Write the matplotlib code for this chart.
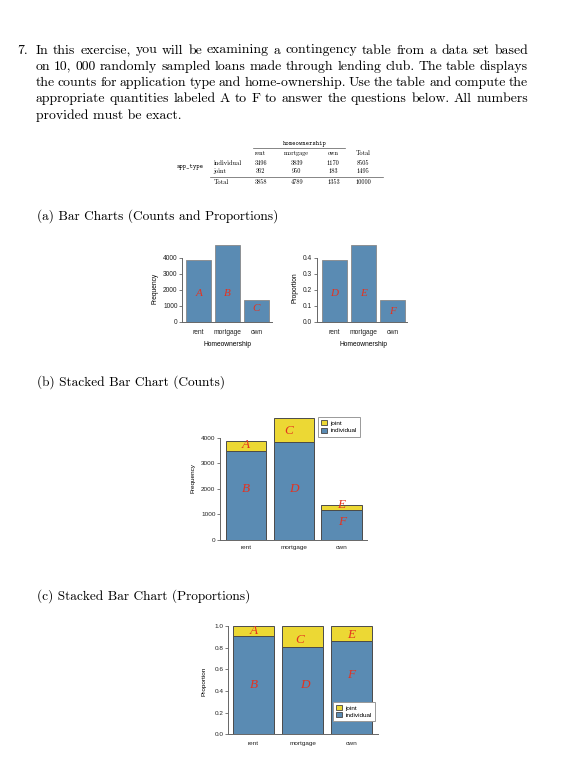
import matplotlib
matplotlib.use('Agg')
import matplotlib.pyplot as plt
from matplotlib.patches import Rectangle
from matplotlib.lines import Line2D
import numpy as np

# ---------------- data ----------------
homeownership = ['rent', 'mortgage', 'own']
app_types = ['individual', 'joint']
individual = [3496, 3839, 1170]
joint = [362, 950, 183]
letters_a_counts = ['A', 'B', 'C']
letters_a_props = ['D', 'E', 'F']
letters_b_joint = ['A', 'C', 'E']
letters_b_indiv = ['B', 'D', 'F']
count_ticks = [0, 1000, 2000, 3000, 4000]
prop_ticks_a = [0.0, 0.1, 0.2, 0.3, 0.4]
prop_ticks_c = [0.0, 0.2, 0.4, 0.6, 0.8, 1.0]

paragraph = [
    "In this exercise, you will be examining a contingency table from a data set based",
    "on 10, 000 randomly sampled loans made through lending club.  The table displays",
    "the counts for application type and home-ownership.  Use the table and compute the",
    "appropriate quantities labeled A to F to answer the questions below.  All numbers",
    "provided must be exact.",
]
headings = ["(a) Bar Charts (Counts and Proportions)",
            "(b) Stacked Bar Chart (Counts)",
            "(c) Stacked Bar Chart (Proportions)"]

ind = np.array(individual, dtype=float)
jnt = np.array(joint, dtype=float)
tot = ind + jnt
grand = tot.sum()

BLUE = '#5A8BB3'
YELLOW = '#ECD834'
RED = '#E5321F'
AXC = '#666666'
SANS = 'Liberation Sans'
SERIF_TEX = 'cmr10'
MONO_TEX = 'cmtt10'

W, H = 575, 767
fig = plt.figure(figsize=(W / 100, H / 100), dpi=100)
fig.patch.set_facecolor('white')
renderer = fig.canvas.get_renderer()


def fx(x):
    return x / W


def fy(y):
    return 1 - y / H


def twidth(s, **kw):
    t = fig.text(0, 0, s, **kw)
    w = t.get_window_extent(renderer).width
    t.remove()
    return w


def fit_size(s, target, **kw):
    w = twidth(s, fontsize=10, **kw)
    return 10 * target / w


def ptext(x, y, s, **kw):
    return fig.text(fx(x), fy(y), s, **kw)


# ---------------- paragraph ----------------
psize = fit_size(paragraph[4], 138.4, family=SERIF_TEX) * 1.05
x_left, x_right = 35.5, 528.0
base0, lstep = 53.5, 16.3
ptext(17, base0, "7.", family=SERIF_TEX, fontsize=psize, va='baseline')
for i, line in enumerate(paragraph):
    yb = base0 + i * lstep
    words = line.split()
    if i < len(paragraph) - 1:
        widths = [twidth(w, family=SERIF_TEX, fontsize=psize) for w in words]
        gap = (x_right - x_left - sum(widths)) / (len(words) - 1)
        x = x_left
        for w, wd in zip(words, widths):
            ptext(x, yb, w, family=SERIF_TEX, fontsize=psize, va='baseline')
            x += wd + gap
    else:
        ptext(x_left, yb, line, family=SERIF_TEX, fontsize=psize, va='baseline')

# ---------------- table ----------------
col_x = [260.7, 296.7, 333.3, 363.3]
row_y = [153.3, 163.3, 171.3, 181.7]
tsize = fit_size('3496', 12.6, family=SERIF_TEX)
rsize = fit_size('Total', 15.0, family=SERIF_TEX)
msize = fit_size('homeownership', 44.0, family=MONO_TEX)
ptext(304.7, 144.0, 'homeownership', family=MONO_TEX, fontsize=msize, ha='center', va='center')
ptext(176.7, 167.0, 'app_type', family=MONO_TEX, fontsize=msize, ha='left', va='center')
for cx, lab in zip(col_x, homeownership + ['Total']):
    ptext(cx, row_y[0], lab, family=SERIF_TEX, fontsize=tsize, ha='center', va='center')
table_rows = [list(ind) + [ind.sum()], list(jnt) + [jnt.sum()], list(tot) + [grand]]
for ry, lab, vals in zip(row_y[1:], app_types + ['Total'], table_rows):
    ptext(213.5, ry, lab, family=SERIF_TEX, fontsize=rsize, ha='left', va='center')
    for cx, v in zip(col_x, vals):
        ptext(cx, ry, f"{int(v)}", family=SERIF_TEX, fontsize=tsize, ha='center', va='center')
fig.add_artist(Line2D([fx(253.3), fx(345)], [fy(148.3), fy(148.3)], color='#555555', lw=0.5))
fig.add_artist(Line2D([fx(210), fx(383.3)], [fy(176.7), fy(176.7)], color='#555555', lw=0.5))

# ---------------- headings ----------------
hsize = fit_size(headings[0], 241.6, family=SERIF_TEX)
for hy, h in zip([220.0, 386.0, 600.0], headings):
    ptext(37, hy, h, family=SERIF_TEX, fontsize=hsize, va='baseline')


# ---------------- helpers for axes ----------------
def make_ax(left, right, top, bottom, xlim, ylim):
    ax = fig.add_axes([fx(left), fy(bottom), (right - left) / W, (bottom - top) / H])
    ax.set_xlim(*xlim)
    ax.set_ylim(*ylim)
    ax.patch.set_alpha(0)
    for s in ['top', 'right']:
        ax.spines[s].set_visible(False)
    for s in ['left', 'bottom']:
        ax.spines[s].set_color(AXC)
        ax.spines[s].set_linewidth(0.7)
    return ax


def style_ticks(ax, yticks, labels, fs, xfs):
    ax.set_yticks(yticks)
    ax.set_yticklabels(labels, fontsize=fs, family=SANS)
    ax.spines['left'].set_bounds(yticks[0], yticks[-1])
    ax.tick_params(axis='y', length=2, width=0.6, color=AXC, pad=1.2, labelcolor='#222222')
    ax.set_xticks(range(len(homeownership)))
    ax.set_xticklabels(homeownership, fontsize=xfs, family=SANS)
    ax.tick_params(axis='x', length=0, pad=5, labelcolor='#222222')


# ---------------- (a) left: counts ----------------
pxu = 64 / 4000
ax1 = make_ax(182, 272, 238, 321.7, (-0.569, 2.534), (0, (321.7 - 238) / pxu))
ax1.bar(range(3), tot, width=0.86, color=BLUE, edgecolor='#888888', linewidth=0.6)
style_ticks(ax1, count_ticks, [str(t) for t in count_ticks], 4.8, 4.8)
for i, (L, yv) in enumerate(zip(letters_a_counts, [1750, 1750, 850])):
    ax1.text(i, yv, L, color=RED, fontsize=8, family='Liberation Serif', style='italic',
             ha='center', va='center')
ptext(155, 288, 'Frequency', family=SANS, fontsize=4.8, rotation=90, ha='center', va='center')
ptext(227, 344, 'Homeownership', family=SANS, fontsize=4.8, ha='center', va='center')

# ---------------- (a) right: proportions ----------------
pxp = 64 / 0.4
ax2 = make_ax(316.7, 406.7, 238, 321.7, (-0.6, 2.487), (0, (321.7 - 238) / pxp))
ax2.bar(range(3), tot / grand, width=0.86, color=BLUE, edgecolor='#888888', linewidth=0.6)
style_ticks(ax2, prop_ticks_a, [f"{t:.1f}" for t in prop_ticks_a], 4.8, 4.8)
for i, (L, yv) in enumerate(zip(letters_a_props, [0.177, 0.177, 0.063])):
    ax2.text(i, yv, L, color=RED, fontsize=8, family='Liberation Serif', style='italic',
             ha='center', va='center')
ptext(295, 288, 'Proportion', family=SANS, fontsize=4.8, rotation=90, ha='center', va='center')
ptext(363, 344, 'Homeownership', family=SANS, fontsize=4.8, ha='center', va='center')

# ---------------- (b) stacked counts ----------------
pxb = 0.0255
ax3 = make_ax(220, 366.7, 405, 539.7, (-0.54, 2.523), (0, (539.7 - 405) / pxb))
ax3.bar(range(3), ind, width=0.845, color=BLUE, edgecolor='#4a4a4a', linewidth=0.7)
ax3.bar(range(3), jnt, bottom=ind, width=0.845, color=YELLOW, edgecolor='#4a4a4a', linewidth=0.7)
style_ticks(ax3, count_ticks, [str(t) for t in count_ticks], 4.6, 4.6)
ax3.tick_params(axis='x', pad=4)
for i, (L, yv) in enumerate(zip(letters_b_joint, [3714, 4275, 1361])):
    ax3.text(i - (0.1 if i == 1 else 0), yv, L, color=RED, fontsize=9.5,
             family='Liberation Serif', style='italic', ha='center', va='center')
for i, (L, yv) in enumerate(zip(letters_b_indiv, [1988, 1988, 682])):
    ax3.text(i, yv, L, color=RED, fontsize=9.5, family='Liberation Serif', style='italic',
             ha='center', va='center')
ptext(192.7, 478.3, 'Frequency', family=SANS, fontsize=4.6, rotation=90, ha='center', va='center')

handles = [Rectangle((0, 0), 1, 1, facecolor=YELLOW, edgecolor='#444444', lw=0.6),
           Rectangle((0, 0), 1, 1, facecolor=BLUE, edgecolor='#444444', lw=0.6)]
leg_kw = dict(loc='upper left', bbox_transform=fig.transFigure, borderaxespad=0,
              fancybox=False, edgecolor='#999999', framealpha=1,
              prop={'family': SANS, 'size': 4.6}, handlelength=0.8, handleheight=0.8,
              handletextpad=0.6, labelspacing=0.25, borderpad=0.5)
lg = ax3.legend(handles, ['joint', 'individual'], bbox_to_anchor=(fx(318.3), fy(417.3)), **leg_kw)
lg.get_frame().set_linewidth(0.7)

# ---------------- (c) stacked proportions ----------------
pxc = 108.3
ax4 = make_ax(228.3, 378.3, 620, 734.3, (-0.518, 2.548), (0, (734.3 - 620) / pxc))
ax4.bar(range(3), ind / tot, width=0.83, color=BLUE, edgecolor='#4a4a4a', linewidth=0.7)
ax4.bar(range(3), jnt / tot, bottom=ind / tot, width=0.83, color=YELLOW, edgecolor='#4a4a4a', linewidth=0.7)
style_ticks(ax4, prop_ticks_c, [f"{t:.1f}" for t in prop_ticks_c], 4.6, 4.6)
ax4.tick_params(axis='x', pad=5)
for i, (L, yv) in enumerate(zip(letters_b_joint, [0.957, 0.868, 0.914])):
    ax4.text(i - (0.05 if i == 1 else 0), yv, L, color=RED, fontsize=9.5,
             family='Liberation Serif', style='italic', ha='center', va='center')
for i, (L, yv) in enumerate(zip(letters_b_indiv, [0.453, 0.453, 0.551])):
    ax4.text(i + (0.05 if i == 1 else 0), yv, L, color=RED, fontsize=9.5,
             family='Liberation Serif', style='italic', ha='center', va='center')
ptext(204, 681.7, 'Proportion', family=SANS, fontsize=4.6, rotation=90, ha='center', va='center')
lg2 = ax4.legend(handles, ['joint', 'individual'], bbox_to_anchor=(fx(333.3), fy(701.7)), **leg_kw)
lg2.get_frame().set_linewidth(0.7)

fig.savefig('out.png', dpi=100, facecolor='white')
